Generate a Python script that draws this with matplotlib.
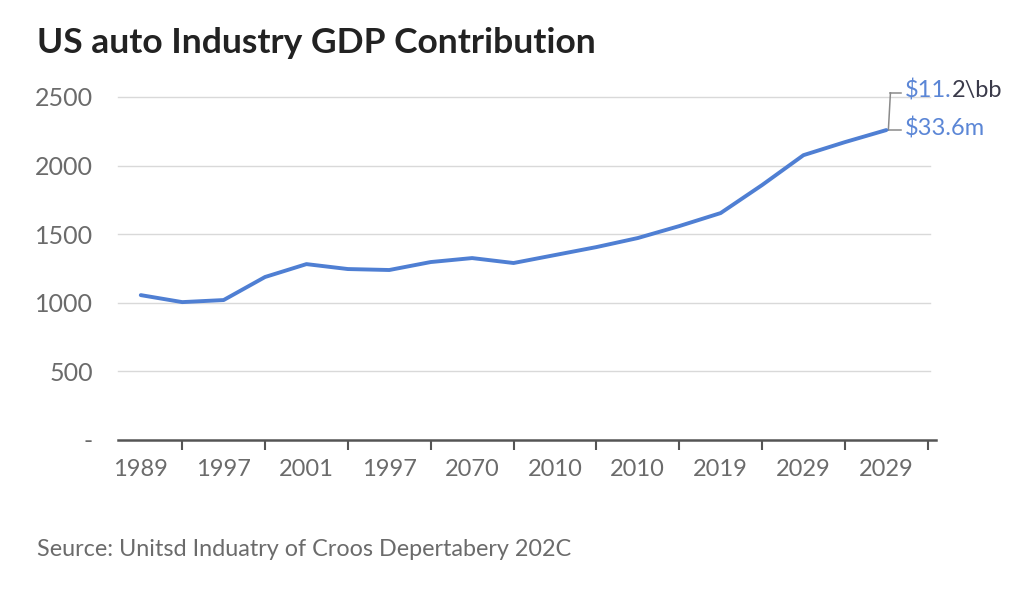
import matplotlib
matplotlib.use("Agg")
import matplotlib.pyplot as plt
import numpy as np

plt.rcParams['font.family'] = ['Lato', 'DejaVu Sans']

# ---- data ----
values = [1056, 1005, 1020, 1188, 1282, 1246, 1239, 1297, 1326, 1290,
          1348, 1406, 1472, 1559, 1654, 1858, 2076, 2171, 2259]
x_labels = ['1989', '1997', '2001', '1997', '2070', '2010', '2010', '2019', '2029', '2029']
y_ticks = [0, 500, 1000, 1500, 2000, 2500]
y_labels = ['-', '500', '1000', '1500', '2000', '2500']
title = 'US auto Industry GDP Contribution'
source = 'Seurce: Unitsd Induatry of Croos Depertabery 202C'
ann_top_blue = '$11.'
ann_top_dark = '2\\bb'
ann_bottom = '$33.6m'

LINE = '#4f7fd3'
GRID = '#d9d9d9'
AX = '#555555'
TXT = '#6b6b6b'

fig = plt.figure(figsize=(10.24, 5.95), dpi=100)
ax = fig.add_axes([118/1024, 1-440/595, (936-118)/1024, (440-97)/595])

x = np.arange(len(values))
ax.plot(x, values, color=LINE, lw=2.8, solid_capstyle='round', solid_joinstyle='round', zorder=3, clip_on=False)

ax.set_xlim(-0.55, 19.2)
ax.set_ylim(0, 2500)

for s in ['top', 'right', 'left']:
    ax.spines[s].set_visible(False)
ax.spines['bottom'].set_color(AX)
ax.spines['bottom'].set_linewidth(1.8)

for yt in y_ticks[1:]:
    ax.axhline(yt, xmin=0, xmax=(930-118)/(936-118), color=GRID, lw=1.0, zorder=1, clip_on=False)

ax.set_yticks(y_ticks)
ax.set_yticklabels(y_labels)
ax.tick_params(axis='y', length=0, pad=18, labelsize=18, labelcolor=TXT)

label_pos = np.arange(0, len(values), 2)
ax.set_xticks(label_pos)
ax.set_xticklabels(x_labels)
ax.tick_params(axis='x', which='major', length=0, pad=14, labelsize=17, labelcolor=TXT)
ax.set_xticks(np.arange(1, len(values) + 1, 2), minor=True)
ax.tick_params(axis='x', which='minor', length=7, width=1.5, color=AX, direction='out')

# annotation bracket to last point
xe, ye = x[-1], values[-1]
bx = xe + 0.05
ax.plot([xe, bx + 0.3], [ye, ye], color='#8a8a8a', lw=1.1, clip_on=False)
ax.plot([bx, bx + 0.05], [ye, 2530], color='#8a8a8a', lw=1.1, clip_on=False)
ax.plot([bx + 0.05, bx + 0.3], [2530, 2530], color='#8a8a8a', lw=1.1, clip_on=False)

t1 = ax.text(xe + 0.45, 2545, ann_top_blue, color='#5b86d6', fontsize=17, va='center', ha='left', clip_on=False)
fig.canvas.draw()
bb = t1.get_window_extent()
inv = ax.transData.inverted()
x_after = inv.transform((bb.x1, bb.y0))[0]
ax.text(x_after, 2545, ann_top_dark, color='#3a3a4a', fontsize=17, va='center', ha='left', clip_on=False)
ax.text(xe + 0.45, ye + 10, ann_bottom, color='#5b86d6', fontsize=17, va='center', ha='left', clip_on=False)

fig.text(37/1024, 1-43/595, title, fontsize=25.5, fontweight='bold', color='#222222', va='center', ha='left')
fig.text(37/1024, 1-550/595, source, fontsize=16.8, color=TXT, va='center', ha='left')

fig.savefig('out.png', dpi=100, facecolor='white')
